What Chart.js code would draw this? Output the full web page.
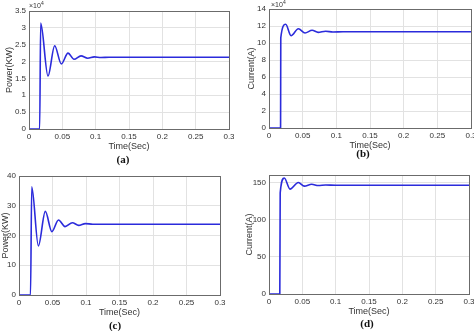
<!DOCTYPE html>
<html>
<head>
<meta charset="utf-8">
<script src="https://cdn.jsdelivr.net/npm/chart.js@4.4.1/dist/chart.umd.min.js"></script>
<style>
  body { margin: 0; background: #fff; width: 474px; height: 331px; position: relative; overflow: hidden; }
  canvas { position: absolute; }
  .cap { position: absolute; font-family: "Liberation Serif", serif; font-weight: bold; font-size: 11px; color: #111; transform: translate(-50%, -50%); }
  .exp { position: absolute; font-family: "Liberation Sans", sans-serif; font-size: 7px; color: #333; }
  .exp sup { font-size: 5px; }
</style>
</head>
<body>
<canvas id="chart-a" width="234" height="156" style="left:0;top:0"></canvas>
<canvas id="chart-b" width="240" height="155" style="left:234px;top:0"></canvas>
<canvas id="chart-c" width="234" height="162" style="left:0;top:160px"></canvas>
<canvas id="chart-d" width="240" height="161" style="left:234px;top:160px"></canvas>
<div class="exp" style="left:29px;top:0px">&times;10<sup>4</sup></div>
<div class="exp" style="left:271px;top:-1px">&times;10<sup>4</sup></div>
<div class="cap" style="left:123px;top:159px">(a)</div>
<div class="cap" style="left:363px;top:153px">(b)</div>
<div class="cap" style="left:115px;top:325px">(c)</div>
<div class="cap" style="left:367px;top:323px">(d)</div>
<script>
// shared time axis ticks
const timeTicks = ["0", "0.05", "0.1", "0.15", "0.2", "0.25", "0.3"];

// (a) power, x10^4
const timeA = [0, 0.016, 0.0175, 0.0285, 0.0385, 0.0485, 0.0585, 0.0675, 0.078, 0.088, 0.098, 0.108, 0.12, 0.3];
const powerA = [0, 0, 3.14, 1.57, 2.47, 1.93, 2.25, 2.07, 2.17, 2.10, 2.14, 2.12, 2.13, 2.13];
const yTicksA = ["0", "0.5", "1", "1.5", "2", "2.5", "3", "3.5"];

// (b) current, x10^4
const timeB = [0, 0.0172, 0.0175, 0.0248, 0.0327, 0.0436, 0.0535, 0.064, 0.073, 0.084, 0.095, 0.11, 0.3];
const currentB = [0, 0, 10.6, 12.2, 10.86, 11.68, 11.18, 11.5, 11.25, 11.38, 11.3, 11.32, 11.32];
const yTicksB = ["0", "2", "4", "6", "8", "10", "12", "14"];

// (c) power
const timeC = [0, 0.0172, 0.019, 0.0289, 0.0393, 0.049, 0.059, 0.0687, 0.0796, 0.089, 0.099, 0.11, 0.3];
const powerC = [0, 0, 36.4, 16.5, 28.1, 21.3, 25.2, 23, 24.3, 23.4, 24, 23.8, 23.8];
const yTicksC = ["0", "10", "20", "30", "40"];

// (d) current
const timeD = [0, 0.0162, 0.0168, 0.023, 0.0315, 0.044, 0.053, 0.064, 0.074, 0.085, 0.1, 0.3];
const currentD = [0, 0, 136, 156, 141, 150, 145, 147.5, 145.8, 146.6, 146.3, 146.3];
const yTicksD = ["0", "50", "100", "150"];

const tickFont = { family: "Liberation Sans", size: 8 };
const titleFont = { family: "Liberation Sans", size: 9 };

// matlab style box round the plot area
const boxPlugin = {
  id: "box",
  afterDraw(chart) {
    const a = chart.chartArea;
    const ctx = chart.ctx;
    ctx.save();
    ctx.strokeStyle = "#6b6b6b";
    ctx.lineWidth = 1;
    ctx.strokeRect(Math.round(a.left) + 0.5, Math.round(a.top) + 0.5, Math.round(a.right - a.left), Math.round(a.bottom - a.top));
    ctx.restore();
  }
};

function makeChart(id, xs, ys, cfg) {
  const pts = xs.map((x, i) => ({ x: x, y: ys[i] }));
  return new Chart(document.getElementById(id), {
    type: "line",
    data: {
      datasets: [{
        data: pts,
        borderColor: "#2b2bdb",
        borderWidth: 1.6,
        pointRadius: 0,
        cubicInterpolationMode: "monotone",
        fill: false
      }]
    },
    options: {
      responsive: false,
      animation: false,
      layout: { padding: { top: cfg.top, right: cfg.right, left: 0, bottom: 0 } },
      plugins: { legend: { display: false }, tooltip: { enabled: false } },
      scales: {
        x: {
          type: "linear",
          min: 0,
          max: 0.3,
          grid: { color: "#e2e2e2", drawTicks: false },
          border: { display: false },
          ticks: {
            stepSize: 0.05,
            padding: 3,
            maxRotation: 0,
            font: tickFont,
            color: "#333",
            callback: (v, i) => timeTicks[i]
          },
          title: { display: true, text: "Time(Sec)", font: titleFont, color: "#333", padding: { top: 0, bottom: 4 } },
          afterFit: (s) => { s.height = cfg.xh; s.paddingLeft = 0; s.paddingRight = 0; }
        },
        y: {
          min: 0,
          max: cfg.ymax,
          grid: { color: "#e2e2e2", drawTicks: false },
          border: { display: false },
          ticks: {
            stepSize: cfg.step,
            includeBounds: false,
            padding: 3,
            font: tickFont,
            color: "#333",
            callback: (v, i) => cfg.labels[i]
          },
          title: { display: true, text: cfg.ytitle, font: titleFont, color: "#333", padding: { top: cfg.tpad, bottom: 0 } },
          afterFit: (s) => { s.width = cfg.yw; s.paddingTop = 0; s.paddingBottom = 0; }
        }
      }
    },
    plugins: [boxPlugin]
  });
}

makeChart("chart-a", timeA, powerA, { top: 11, right: 5, xh: 27, yw: 29, ymax: 3.5, step: 0.5, labels: yTicksA, ytitle: "Power(KW)", tpad: 4 });
makeChart("chart-b", timeB, currentB, { top: 9, right: 3, xh: 27, yw: 35, ymax: 14, step: 2, labels: yTicksB, ytitle: "Current(A)", tpad: 12 });
makeChart("chart-c", timeC, powerC, { top: 16, right: 14, xh: 27, yw: 19, ymax: 40, step: 10, labels: yTicksC, ytitle: "Power(KW)", tpad: 0 });
makeChart("chart-d", timeD, currentD, { top: 15, right: 5, xh: 27, yw: 35, ymax: 160, step: 50, labels: yTicksD, ytitle: "Current(A)", tpad: 10 });
</script>
</body>
</html>
